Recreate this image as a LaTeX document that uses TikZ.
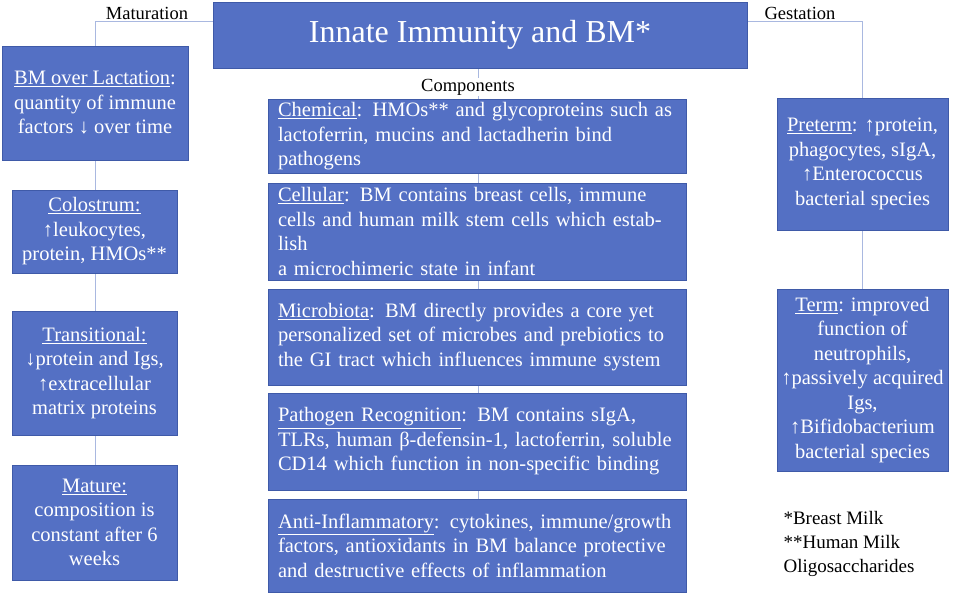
\documentclass[tikz,border=0pt]{standalone}
\usepackage{fontspec}
\setmainfont{Liberation Serif}
\definecolor{bbox}{HTML}{5470C4}
\definecolor{bedge}{HTML}{3F5AA8}
\definecolor{lline}{HTML}{A9B8E0}
\tikzset{bx/.style={draw=bedge,fill=bbox,text=white,inner sep=3pt,font=\fontsize{20.5}{24.5}\selectfont},
 lnk/.style={draw=lline,line width=0.9pt}}
\newcommand\mybox[7]{\node[bx,minimum width=#4-#2,minimum height=#5-#3,align=#6] (#1) at ({(#2+#4)/2},{(#3+#5)/2}) {#7};}
\newcommand\cbox[6]{\node[bx,minimum width=#4-#2,minimum height=#5-#3,text width=#4-#2-20,align=left] (#1) at ({(#2+#4)/2},{(#3+#5)/2}) {#6};}
\begin{document}
\begin{tikzpicture}[x=1pt,y=-1pt]
\useasboundingbox (0,0) rectangle (965,600);
\coordinate (ml) at (95,21); \coordinate (gr) at (862,21);
\coordinate (cx) at (478,68);
\draw[lnk] (213,21) -- (ml) -- (95,580);
\draw[lnk] (747,21) -- (gr) -- (862,471);
\draw[lnk] (cx) -- (478,592);
\mybox{t}{213}{2}{747}{68}{center}{\fontsize{32}{36}\selectfont Innate Immunity and BM*}
\node[font=\fontsize{18.5}{20}\selectfont,fill=white,inner sep=1pt] (mat) at (147,13) {Maturation};
\node[font=\fontsize{18.5}{20}\selectfont,fill=white,inner sep=1pt] (ges) at (800,13) {Gestation};
\node[font=\fontsize{18.5}{20}\selectfont,fill=white,inner sep=1pt] (comp) at (468,87) {Components};
\mybox{l1}{2}{46}{188}{160}{center}{\underline{BM over Lactation}:\\ quantity of immune\\ factors ↓ over time}
\mybox{l2}{12}{190}{177}{273}{center}{\underline{Colostrum:}\\ ↑leukocytes,\\ protein, HMOs**}
\mybox{l3}{12}{311}{177}{435}{center}{\underline{Transitional:}\\ ↓protein and Igs,\\ ↑extracellular\\ matrix proteins}
\mybox{l4}{12}{465}{177}{580}{center}{\underline{Mature:}\\ composition is\\ constant after 6\\ weeks}
\cbox{c1}{268}{101}{686}{172}{\underline{Chemical}: HMOs** and glycoproteins such as\\ lactoferrin, mucins and lactadherin bind\\ pathogens}
\cbox{c2}{268}{183}{686}{280}{\underline{Cellular}: BM contains breast cells, immune\\ cells and human milk stem cells which establish\\ a microchimeric state in infant}
\cbox{c3}{268}{289}{686}{385}{\underline{Microbiota}: BM directly provides a core yet\\ personalized set of microbes and prebiotics to\\ the GI tract which influences immune system}
\cbox{c4}{268}{393}{686}{490}{\underline{Pathogen Recognition}: BM contains sIgA,\\ TLRs, human β-defensin-1, lactoferrin, soluble\\ CD14 which function in non-specific binding}
\cbox{c5}{268}{499}{686}{592}{\underline{Anti-Inflammatory}: cytokines, immune/growth\\ factors, antioxidants in BM balance protective\\ and destructive effects of inflammation}
\mybox{r1}{777}{98}{948}{230}{center}{\underline{Preterm}: ↑protein,\\ phagocytes, sIgA,\\ ↑Enterococcus\\ bacterial species}
\mybox{r2}{777}{289}{948}{471}{center}{\underline{Term}: improved\\ function of\\ neutrophils,\\ ↑passively acquired\\ Igs,\\ ↑Bifidobacterium\\ bacterial species}
\node[anchor=north west,align=left,font=\fontsize{19}{24}\selectfont] (fn) at (780,508) {*Breast Milk\\**Human Milk\\Oligosaccharides};
\end{tikzpicture}
\end{document}
